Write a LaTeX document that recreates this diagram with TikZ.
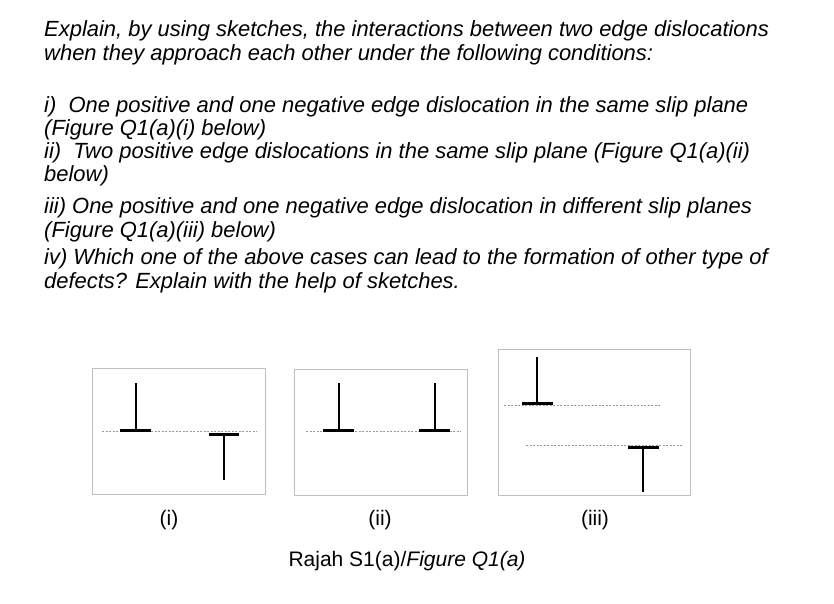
\documentclass[tikz,border=0pt]{standalone}
\usepackage{fontspec}
\setmainfont{Liberation Sans}
\begin{document}
\begin{tikzpicture}[x=1pt,y=-1pt,
  txt/.style={anchor=west,inner sep=0pt,font=\fontsize{21.95}{24}\selectfont\itshape},
  frame/.style={draw=black!25,line width=0.8pt},
  slip/.style={draw=black!40,dashed,dash pattern=on 2pt off 1.5pt,line width=0.8pt},
  disl/.style={line width=1.6pt},
  bar/.style={line width=3pt},
  lab/.style={font=\fontsize{21}{24}\selectfont}]
\useasboundingbox (0,0) rectangle (834,604);
\node[txt] (t1) at (44,31) {Explain, by using sketches, the interactions between two edge dislocations};
\node[txt] (t2) at (44,55) {when they approach each other under the following conditions:};
\node[txt] (t3) at (44,107) {i)\ \ One positive and one negative edge dislocation in the same slip plane};
\node[txt] (t4) at (44,130) {(Figure Q1(a)(i) below)};
\node[txt] (t5) at (44,153) {ii)\ \ Two positive edge dislocations in the same slip plane (Figure Q1(a)(ii)};
\node[txt] (t6) at (44,176) {below)};
\node[txt] (t7) at (44,208) {iii) One positive and one negative edge dislocation in different slip planes};
\node[txt] (t8) at (44,232) {(Figure Q1(a)(iii) below)};
\node[txt] (t9) at (44,259) {iv) Which one of the above cases can lead to the formation of other type of};
\node[txt] (t10) at (44,283) {defects? Explain with the help of sketches.};
% box i
\draw[frame] (92,368) rectangle (265,494);
\draw[slip] (102,431) -- (257,431);
\draw[bar] (120,430) -- (151,430); \draw[disl] (136,430) -- (136,383);
\draw[bar] (209,434) -- (239,434); \draw[disl] (224,434) -- (224,480);
% box ii
\draw[frame] (294,369) rectangle (467,495);
\draw[slip] (306,431) -- (461,431);
\draw[bar] (323,430) -- (354,430); \draw[disl] (339,430) -- (339,383);
\draw[bar] (419,430) -- (450,430); \draw[disl] (435,430) -- (435,383);
% box iii
\draw[frame] (498,349) rectangle (690,495);
\draw[slip] (504,405) -- (660,405);
\draw[slip] (526,445) -- (682,445);
\draw[bar] (522,403) -- (553,403); \draw[disl] (537,403) -- (537,357);
\draw[bar] (628,447) -- (659,447); \draw[disl] (643,447) -- (643,492);
\node[lab] (l1) at (169,520) {(i)};
\node[lab] (l2) at (380,520) {(ii)};
\node[lab] (l3) at (595,520) {(iii)};
\node[font=\fontsize{21}{24}\selectfont] (cap) at (407,561) {Rajah S1(a)/\textit{Figure Q1(a)}};
\end{tikzpicture}
\end{document}
